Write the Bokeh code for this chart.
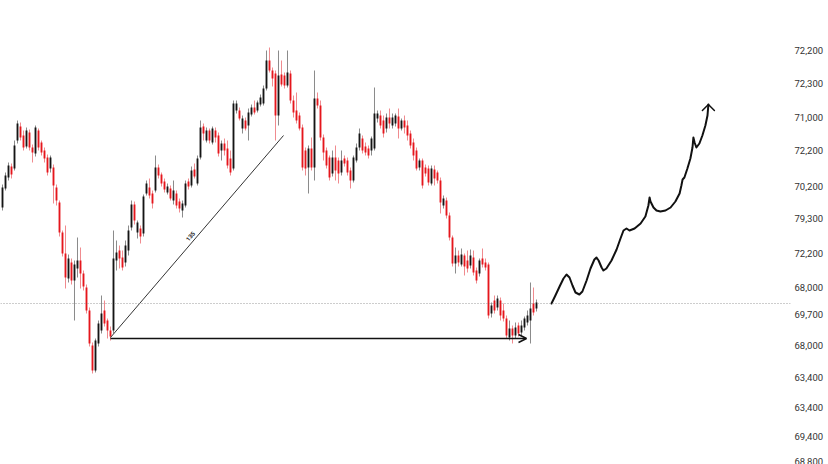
from bokeh.plotting import figure
from bokeh.models import Range1d, FixedTicker, Span, Arrow, OpenHead
from bokeh.core.properties import value
from bokeh.embed import file_html
from bokeh.resources import INLINE

# ---------------- data ----------------
open_ = [72930, 73120, 73230, 73340, 73320, 73600, 73740, 73650, 73540, 73680,
         73530, 73470, 73700, 73580, 73500, 73430, 73320, 73330, 73130, 72980,
         72680, 72470, 72220, 72380, 72200, 72320, 72400, 72270, 72130, 71900,
         71550, 71300, 71570, 71700, 71900, 71800, 71700, 71700, 72400, 72500,
         72430, 72380, 72500, 72730, 72960, 72680, 72720, 72670, 73070, 73130,
         73070, 73100, 73330, 73260, 73190, 73080, 73120, 73000, 73070, 72990,
         72900, 72950, 73190, 73150, 73310, 73170, 73430, 73740, 73600, 73700,
         73580, 73700, 73650, 73500, 73570, 73520, 73420, 73320, 73900, 73900,
         73720, 73800, 73750, 73860, 73930, 73900, 73960, 73970, 74120, 74400,
         74300, 74270, 73850, 74260, 74250, 74150, 74270, 74000, 73900, 73850,
         73730, 73500, 73330, 73520, 73330, 74020, 73950, 73630, 73500, 73430,
         73270, 73430, 73400, 73280, 73420, 73400, 73300, 73200, 73400, 73530,
         73620, 73540, 73520, 73500, 73520, 73820, 73850, 73800, 73720, 73830,
         73750, 73770, 73840, 73720, 73800, 73750, 73670, 73580, 73500, 73330,
         73400, 73330, 73320, 73170, 73310, 73280, 73200, 72950, 73000, 72850,
         72630, 72370, 72450, 72360, 72450, 72400, 72350, 72430, 72300, 72270,
         72420, 72380, 72360, 71870, 72000, 71930, 72000, 71900, 71820, 71630,
         71720, 71650, 71750, 71680, 71730, 71780, 71800, 71970, 71920]
close = [73130, 73250, 73350, 73260, 73550, 73770, 73630, 73530, 73700, 73530,
         73480, 73730, 73530, 73480, 73420, 73280, 73430, 73150, 73000, 72680,
         72470, 72230, 72420, 72200, 72360, 72400, 72270, 72140, 71900, 71570,
         71300, 71600, 71770, 71870, 71770, 71700, 71640, 72420, 72480, 72420,
         72330, 72550, 72700, 72960, 72800, 72780, 72640, 73040, 73170, 73050,
         72970, 73330, 73250, 73170, 73110, 73140, 73020, 73100, 72950, 72920,
         72970, 73170, 73140, 73300, 73240, 73420, 73730, 73670, 73700, 73600,
         73720, 73630, 73470, 73570, 73500, 73350, 73280, 73970, 73970, 73820,
         73820, 73720, 73880, 73930, 73880, 73980, 74030, 74120, 74400, 74300,
         74220, 73850, 74250, 74160, 74150, 74280, 74000, 73880, 73800, 73720,
         73330, 73320, 73520, 73330, 74020, 73950, 73630, 73480, 73350, 73230,
         73430, 73300, 73270, 73400, 73370, 73280, 73200, 73430, 73530, 73670,
         73500, 73480, 73450, 73620, 73870, 73870, 73750, 73670, 73830, 73770,
         73830, 73850, 73720, 73800, 73730, 73650, 73550, 73450, 73320, 73400,
         73150, 73270, 73180, 73320, 73220, 73200, 72980, 73020, 72850, 72630,
         72370, 72450, 72380, 72460, 72340, 72320, 72450, 72280, 72200, 72400,
         72360, 72330, 71850, 71950, 71900, 72020, 71850, 71820, 71650, 71720,
         71650, 71730, 71670, 71750, 71820, 71850, 71920, 71880, 71980]
high = [73160, 73280, 73380, 73370, 73600, 73800, 73780, 73700, 73730, 73710,
        73560, 73750, 73720, 73600, 73530, 73460, 73450, 73360, 73160, 73000,
        72700, 72750, 72460, 72420, 72400, 72630, 72530, 72300, 72160, 71930,
        71580, 71620, 71800, 72050, 72000, 71820, 71740, 72700, 72600, 72550,
        72500, 72600, 72750, 73000, 72990, 72800, 72750, 73060, 73200, 73220,
        73100, 73450, 73360, 73280, 73220, 73170, 73150, 73200, 73100, 73020,
        73000, 73200, 73220, 73340, 73370, 73450, 73800, 73770, 73730, 73720,
        73740, 73730, 73680, 73600, 73620, 73600, 73500, 74000, 74000, 73930,
        73850, 73830, 73920, 73960, 74000, 74000, 74060, 74150, 74500, 74530,
        74330, 74300, 74500, 74400, 74280, 74500, 74300, 74050, 74080, 73880,
        73760, 73530, 73550, 73630, 74300, 74080, 74000, 73660, 73530, 73450,
        73500, 73550, 73430, 73500, 73450, 73430, 73330, 73450, 73570, 73720,
        73650, 73580, 73550, 73640, 74130, 73900, 73900, 73850, 73870, 73920,
        73870, 73870, 73920, 73820, 73850, 73800, 73700, 73620, 73530, 73420,
        73420, 73360, 73350, 73350, 73350, 73300, 73230, 73050, 73030, 72880,
        72650, 72530, 72500, 72520, 72470, 72500, 72510, 72500, 72330, 72420,
        72520, 72420, 72380, 71980, 72050, 72050, 72030, 71970, 71850, 71800,
        71750, 71780, 71780, 71800, 71840, 71900, 72180, 72130, 72010]
low = [72900, 73100, 73200, 73220, 73300, 73570, 73600, 73500, 73520, 73500,
       73380, 73440, 73500, 73450, 73380, 73250, 73280, 72970, 72950, 72640,
       72440, 72120, 72180, 72160, 71800, 72230, 72120, 72100, 71870, 71540,
       71270, 71280, 71540, 71670, 71740, 71620, 71600, 71670, 72300, 72320,
       72300, 72340, 72450, 72700, 72760, 72620, 72570, 72640, 73050, 73020,
       72920, 73080, 73220, 73140, 73080, 73060, 73000, 72960, 72920, 72880,
       72830, 72930, 73110, 73130, 73220, 73150, 73410, 73600, 73580, 73570,
       73560, 73580, 73440, 73400, 73450, 73320, 73250, 73300, 73870, 73800,
       73670, 73700, 73600, 73840, 73860, 73880, 73940, 73950, 74100, 74280,
       74140, 73600, 73750, 74140, 74120, 74130, 73970, 73830, 73770, 73700,
       73300, 73250, 73070, 73300, 73200, 73920, 73600, 73400, 73320, 73200,
       73240, 73200, 73170, 73250, 73340, 73250, 73120, 73180, 73380, 73500,
       73470, 73450, 73420, 73450, 73500, 73780, 73720, 73630, 73680, 73720,
       73720, 73740, 73620, 73700, 73670, 73600, 73520, 73400, 73300, 73300,
       73120, 73240, 73150, 73150, 73150, 73170, 72870, 72920, 72820, 72600,
       72340, 72270, 72340, 72340, 72250, 72280, 72320, 72250, 72170, 72240,
       72330, 72300, 71820, 71830, 71870, 71900, 71800, 71790, 71620, 71600,
       71570, 71620, 71640, 71650, 71700, 71750, 71570, 71850, 71890]

tick_values = [74500, 74170, 73830, 73500, 73140, 72820, 72470, 72130,
               71860, 71550, 71230, 70930, 70640, 70370]
tick_labels = ["72,200", "72,300", "71,000", "72,200", "70,200", "79,300", "72,200",
               "68,000", "69,700", "68,000", "63,400", "63,400", "69,400", "68,800"]

level_price = 71970          # dotted horizontal level
range_bar = [36, 174.67]     # horizontal measured arrow (bar index)
range_price = 71620
diag_x = [36, 93.67]         # diagonal measuring line
diag_y = [71630, 73650]
diag_label = "135"
diag_label_x = 62.7
diag_label_y = 72640

path_x = [183.0, 184.3, 185.7, 187.0, 188.0, 189.0, 190.0, 191.0, 192.3, 193.3,
          194.7, 196.0, 197.3, 198.0, 198.7, 199.7, 200.3, 201.3, 203.0, 204.7,
          206.0, 207.0, 208.0, 209.0, 210.7, 212.7, 214.3, 215.3, 215.7, 216.0,
          217.0, 218.0, 219.3, 221.0, 222.7, 224.3, 225.7, 226.3, 226.7, 227.3,
          228.3, 229.3, 230.0, 230.3, 230.7, 231.3, 232.3, 233.3, 234.3, 235.0, 235.3]
path_y = [71970, 72050, 72140, 72220, 72260, 72230, 72150, 72080, 72060, 72090,
          72200, 72320, 72410, 72430, 72400, 72330, 72300, 72320, 72400, 72510,
          72620, 72700, 72720, 72700, 72720, 72770, 72840, 72950, 73030, 72990,
          72930, 72900, 72890, 72900, 72930, 72990, 73070, 73150, 73210, 73230,
          73320, 73420, 73530, 73630, 73580, 73530, 73570, 73650, 73750, 73850, 73960]
head_x = [233.3, 235.3, 237.3]
head_y = [73900, 73960, 73900]

# ---------------- figure ----------------
idx = list(range(len(close)))
is_up = [c >= o for o, c in zip(open_, close)]
tops = [max(o, c) for o, c in zip(open_, close)]
bots = [min(o, c) for o, c in zip(open_, close)]
body_col = ["#151515" if u else "#e5161c" for u in is_up]
wick_col = ["#8a8a8a" if u else "#f08a8e" for u in is_up]

p = figure(frame_width=790, frame_height=464,
           x_range=Range1d(-0.667, 262.67), y_range=Range1d(70360, 75000),
           output_backend="svg", toolbar_location=None,
           x_axis_location=None, y_axis_location="right",
           min_border_left=0, min_border_top=0, min_border_bottom=0, min_border_right=0,
           background_fill_color="white", border_fill_color="white")
p.outline_line_color = None
p.xgrid.visible = False
p.ygrid.visible = False

ax = p.yaxis[0]
ax.ticker = FixedTicker(ticks=tick_values)
ax.major_label_overrides = {v: l for v, l in zip(tick_values, tick_labels)}
ax.axis_line_color = None
ax.major_tick_line_color = None
ax.minor_tick_line_color = None
ax.major_tick_out = 0
ax.major_tick_in = 0
ax.major_label_standoff = 4
ax.major_label_text_font = "Roboto"
ax.major_label_text_font_size = "9.5px"
ax.major_label_text_color = "#333333"

p.add_layout(Span(location=level_price, dimension="width", line_color="#9a9a9a",
                  line_dash="1 2", line_width=1))

p.segment(x0=idx, y0=low, x1=idx, y1=high, line_color=wick_col, line_width=1)
p.vbar(x=idx, width=0.62, top=tops, bottom=bots, fill_color=body_col, line_color=None)

p.line(diag_x, diag_y, line_color="#333333", line_width=1)
p.text(x=[diag_label_x], y=[diag_label_y], text=[diag_label], angle=0.862,
       text_font=value("Roboto"), text_font_size="6px", text_font_style="bold",
       text_align="center", text_baseline="middle", text_color="#222222")

p.add_layout(Arrow(end=OpenHead(size=8, line_width=1.5, line_color="#111111"),
                   x_start=range_bar[0], y_start=range_price,
                   x_end=range_bar[1], y_end=range_price,
                   line_color="#111111", line_width=1.5))

p.line(path_x, path_y, line_color="#111111", line_width=2, line_join="round", line_cap="round")
p.line(head_x, head_y, line_color="#111111", line_width=1.5, line_join="round", line_cap="round")

open("out.html", "w").write(file_html(p, INLINE))
